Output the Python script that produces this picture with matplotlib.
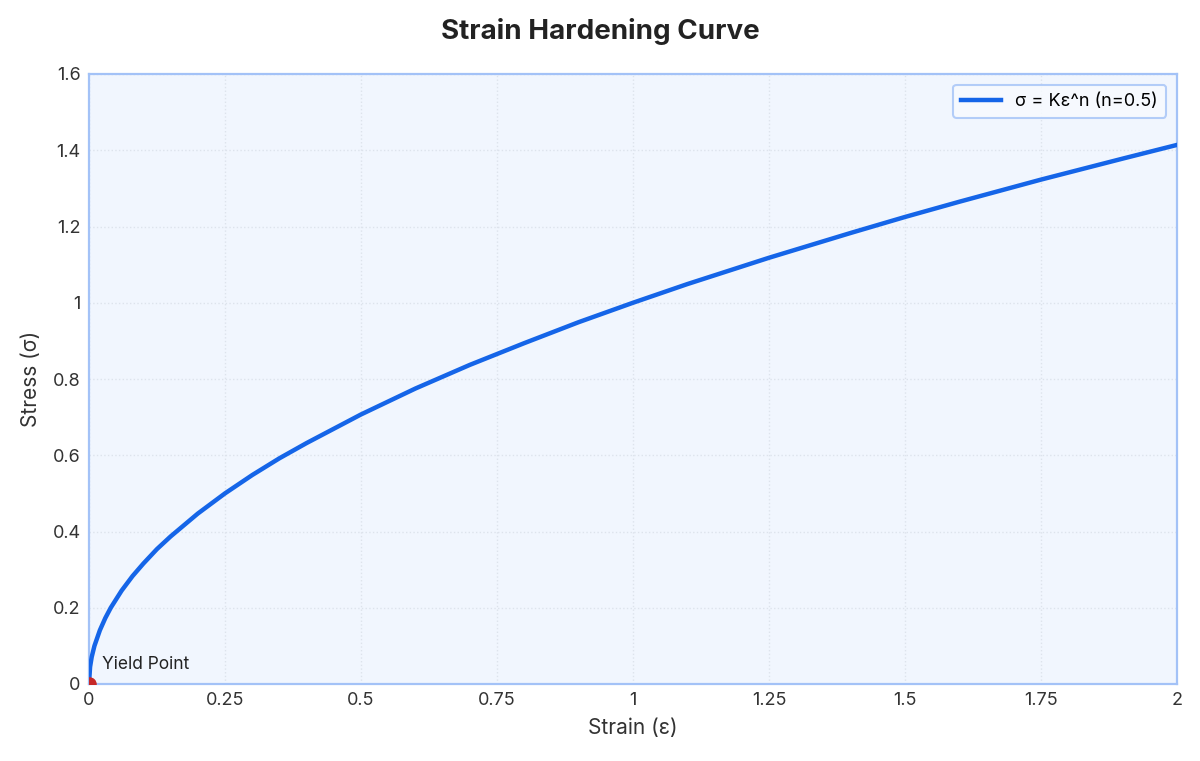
import matplotlib.pyplot as plt
from matplotlib.ticker import FuncFormatter

# values
strain = [0, 0.002, 0.005, 0.01, 0.02, 0.03, 0.04, 0.06, 0.08, 0.1, 0.125, 0.15, 0.2,
          0.25, 0.3, 0.35, 0.4, 0.5, 0.6, 0.7, 0.8, 0.9, 1.0, 1.1, 1.25, 1.4,
          1.5, 1.6, 1.75, 1.9, 2.0]
stress = [0, 0.045, 0.071, 0.1, 0.141, 0.173, 0.2, 0.245, 0.283, 0.316, 0.354, 0.387, 0.447,
          0.5, 0.548, 0.592, 0.632, 0.707, 0.775, 0.837, 0.894, 0.949, 1.0, 1.049, 1.118, 1.183,
          1.225, 1.265, 1.323, 1.378, 1.414]
yield_pt = (0, 0)

plt.rcParams['font.family'] = ['Inter', 'DejaVu Sans']

fig = plt.figure(figsize=(12, 7.61), dpi=100)
ax = fig.add_axes([89 / 1200, 1 - 684 / 761, (1177 - 89) / 1200, (684 - 74) / 761])
ax.set_facecolor('#f1f6fe')

ax.plot(strain, stress, color='#1565e8', lw=3.2, label='σ = Kε^n (n=0.5)', zorder=3)
ax.scatter([yield_pt[0]], [yield_pt[1]], s=90, color='#c62828', zorder=4, clip_on=True)
ax.annotate('Yield Point', xy=yield_pt, xytext=(9, 11), textcoords='offset points',
            fontsize=12.5, color='#222222')

ax.set_xlim(0, 2)
ax.set_ylim(0, 1.6)
ax.set_xticks([0, 0.25, 0.5, 0.75, 1, 1.25, 1.5, 1.75, 2])
ax.set_yticks([0, 0.2, 0.4, 0.6, 0.8, 1, 1.2, 1.4, 1.6])
fmt = FuncFormatter(lambda v, p: f'{v:g}')
ax.xaxis.set_major_formatter(fmt)
ax.yaxis.set_major_formatter(fmt)
ax.tick_params(length=0, labelsize=13, colors='#333333', pad=6)
ax.grid(True, color='#dde3ec', ls=':', lw=1)

for s in ax.spines.values():
    s.set_color('#a3c2f7')
    s.set_linewidth(1.6)

ax.set_xlabel('Strain (ε)', fontsize=15, color='#333333', labelpad=6)
ax.set_ylabel('Stress (σ)', fontsize=15, color='#333333', labelpad=8)
fig.suptitle('Strain Hardening Curve', fontsize=20, fontweight='bold', color='#222222', y=0.977)

leg = ax.legend(loc='upper right', fontsize=13, frameon=True, handlelength=2.2,
                borderpad=0.45, fancybox=True, borderaxespad=0.6)
leg.get_frame().set_edgecolor('#a3c2f7')
leg.get_frame().set_facecolor('#f8fbff')
leg.get_frame().set_linewidth(1.5)

fig.savefig('out.png', dpi=100)
